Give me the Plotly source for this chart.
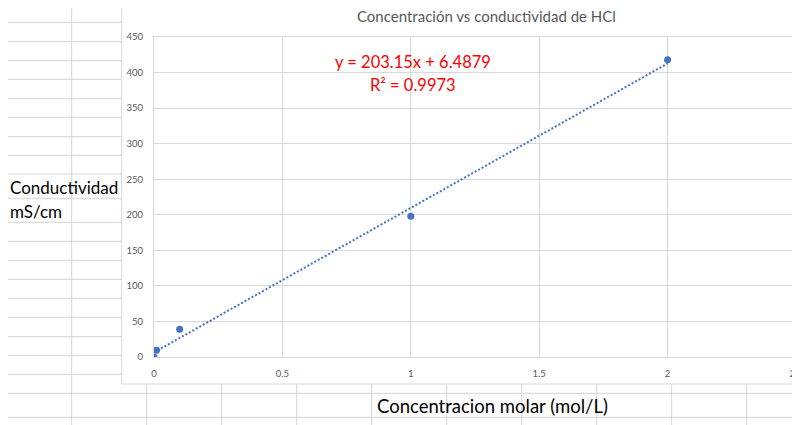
import numpy as np
import plotly.graph_objects as go

# ---- data ----
conc = [0, 0.01, 0.1, 1, 2]            # mol/L
cond = [0, 9.5, 39, 198, 418]          # mS/cm
trend_slope = 203.15
trend_intercept = 6.4879
r_squared = 0.9973
x_ticks = [0, 0.5, 1, 1.5, 2, 2.5]
x_ticktext = ["0", "0.5", "1", "1.5", "2", "2.5"]
y_ticks = [0, 50, 100, 150, 200, 250, 300, 350, 400, 450]
y_ticktext = [str(v) for v in y_ticks]

title_text = "Concentración vs conductividad de HCl"
x_title = "Concentracion molar (mol/L)"
y_title_lines = ["Conductividad", "mS/cm"]

# ---- layout geometry ----
# The page body has an 8px margin, so page coordinates = figure coordinates + OFF.
OFF = 8
W, H = 800, 425
# plot area in page pixels: x 154..796, y 37..357
P_L, P_R, P_T, P_B = 154, 796, 37, 357
ML, MT = P_L - OFF, P_T - OFF
MR, MB = W - (P_R - OFF), H - (P_B - OFF)
PW, PH = P_R - P_L, P_B - P_T


def px(x):  # page x -> paper
    return (x - P_L) / PW


def py(y):  # page y -> paper
    return (P_B - y) / PH


FONT = "Lato, 'Open Sans', sans-serif"
SHEET = "#d4d4d4"
GRID = "#d9d9d9"
BLUE = "#4472c4"

shapes = []
# spreadsheet background grid
row_lines = [3.3, 22.3, 41.7, 60.7, 79.3, 98.7, 117.3, 136.7, 155.3, 174, 198.7,
             222.3, 241.3, 260.3, 279.3, 298.3, 317.3, 336.7, 355.7, 374.3, 393.3, 417.3]
col_lines = [71.7 + 75 * k for k in range(10)]
for yy in row_lines:
    shapes.append(dict(type="line", xref="paper", yref="paper", layer="below",
                       x0=px(0), x1=px(W + 20), y0=py(yy), y1=py(yy),
                       line=dict(color=SHEET, width=1)))
for xx in col_lines:
    shapes.append(dict(type="line", xref="paper", yref="paper", layer="below",
                       x0=px(xx), x1=px(xx), y0=py(0), y1=py(H + 20),
                       line=dict(color=SHEET, width=1)))
# chart area
shapes.append(dict(type="rect", xref="paper", yref="paper", layer="below",
                   x0=px(121.7), x1=px(W + 30), y0=py(-30), y1=py(384),
                   fillcolor="white", line=dict(color=GRID, width=1)))

fig = go.Figure()
tx = np.array([min(conc), max(conc)])
fig.add_trace(go.Scatter(x=tx, y=trend_slope * tx + trend_intercept, mode="lines",
                         line=dict(color=BLUE, width=2, dash="2px,2px"),
                         hoverinfo="skip", showlegend=False))
fig.add_trace(go.Scatter(x=conc, y=cond, mode="markers",
                         marker=dict(color=BLUE, size=7), showlegend=False))

annotations = [
    dict(text=title_text, x=px(486.5), y=py(16), xref="paper", yref="paper",
         showarrow=False, font=dict(family=FONT, size=15, color="#595959"),
         xanchor="center", yanchor="middle"),
    dict(text=f"y = {trend_slope}x + {trend_intercept}", x=px(413), y=py(62),
         xref="paper", yref="paper", showarrow=False,
         font=dict(family=FONT, size=16.5, color="#ff0000"),
         xanchor="center", yanchor="middle"),
    dict(text=f"R² = {r_squared}", x=px(413), y=py(85),
         xref="paper", yref="paper", showarrow=False,
         font=dict(family=FONT, size=16.5, color="#ff0000"),
         xanchor="center", yanchor="middle"),
    dict(text=x_title, x=px(375), y=py(406), xref="paper", yref="paper",
         showarrow=False, font=dict(family=FONT, size=18.5, color="black"),
         xanchor="left", yanchor="middle"),
    dict(text=y_title_lines[0], x=px(8), y=py(187), xref="paper", yref="paper",
         showarrow=False, font=dict(family=FONT, size=17, color="black"),
         xanchor="left", yanchor="middle"),
    dict(text=y_title_lines[1], x=px(8), y=py(211), xref="paper", yref="paper",
         showarrow=False, font=dict(family=FONT, size=17, color="black"),
         xanchor="left", yanchor="middle"),
]

fig.update_layout(
    width=W, height=H,
    margin=dict(l=ML, r=MR, t=MT, b=MB, pad=0, autoexpand=False),
    paper_bgcolor="white", plot_bgcolor="rgba(0,0,0,0)",
    shapes=shapes, annotations=annotations, showlegend=False,
    font=dict(family=FONT),
)
fig.update_xaxes(range=[0, 2.5], tickvals=x_ticks, ticktext=x_ticktext,
                 showgrid=True, gridcolor=GRID, gridwidth=1, zeroline=False,
                 showline=True, linecolor=GRID, mirror=True, automargin=False,
                 ticks="", ticklabelstandoff=8,
                 tickfont=dict(family=FONT, size=9.5, color="#595959"))
fig.update_yaxes(range=[0, 450], tickvals=y_ticks, ticktext=y_ticktext,
                 showgrid=True, gridcolor=GRID, gridwidth=1, zeroline=False,
                 showline=True, linecolor=GRID, mirror=True, automargin=False,
                 ticks="", ticklabelstandoff=8,
                 tickfont=dict(family=FONT, size=9.5, color="#595959"))

fig.write_html("out.html")
